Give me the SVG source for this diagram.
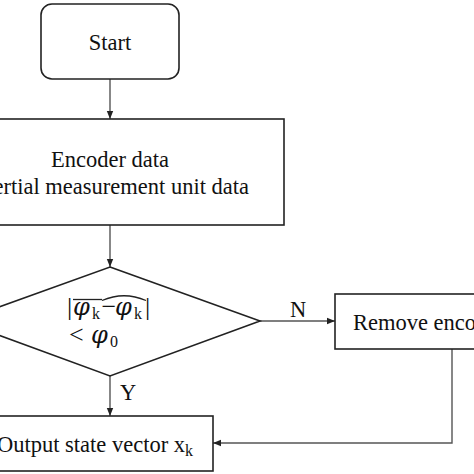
<svg xmlns="http://www.w3.org/2000/svg" width="474" height="474" viewBox="0 0 474 474">
<style>
.box{fill:#fff;stroke:#222;stroke-width:1.6}
.c{fill:none;stroke:#555;stroke-width:1.4}
.t{font-family:"Liberation Serif","Times New Roman",serif;font-size:22.5px;fill:#111}
.m{font-family:"Liberation Serif","DejaVu Serif",serif;font-size:26px;fill:#111}
.phi{font-family:"DejaVu Serif",serif;font-style:italic;font-size:24px}
.sub{font-size:16px}
</style>
<defs>
<marker id="ah" markerWidth="8" markerHeight="8" refX="8" refY="4" orient="auto" markerUnits="userSpaceOnUse">
<path d="M0,0.8 L8,4 L0,7.2 Z" fill="#222"/>
</marker>
</defs>
<rect width="474" height="474" fill="#fff"/>
<g id="connectors">
<line class="c" x1="110" y1="79" x2="110" y2="119" marker-end="url(#ah)"/>
<line class="c" x1="110" y1="225" x2="110" y2="267" marker-end="url(#ah)"/>
<line class="c" x1="260" y1="321" x2="335" y2="321" marker-end="url(#ah)"/>
<line class="c" x1="110" y1="376" x2="110" y2="416" marker-end="url(#ah)"/>
<polyline class="c" points="452,349 452,443 213,443" marker-end="url(#ah)"/>
<text class="t" x="290" y="317">N</text>
<text class="t" x="120" y="400">Y</text>
</g>
<g id="start">
<rect class="box" x="41" y="4" width="138" height="75" rx="11"/>
<text class="t" x="110" y="50" text-anchor="middle">Start</text>
</g>
<g id="input">
<rect class="box" x="-10" y="119" width="294" height="106"/>
<text class="t" x="110" y="167" text-anchor="middle">Encoder data</text>
<text class="t" x="249" y="194" text-anchor="end">Inertial measurement unit data</text>
</g>
<g id="decision">
<polygon class="box" points="110,267 260,321 110,376 -40,321"/>
<text class="m" y="315"><tspan x="67">|</tspan><tspan class="phi" x="73">φ</tspan><tspan class="sub" x="92" y="319">k</tspan><tspan x="101.5" y="315">−</tspan><tspan class="phi" x="115">φ</tspan><tspan class="sub" x="134" y="319">k</tspan><tspan x="145" y="315">|</tspan></text>
<line x1="73" y1="299.5" x2="102" y2="299.5" stroke="#222" stroke-width="1.3"/>
<path d="M102,300.5 Q124,291 146,300.5" fill="none" stroke="#222" stroke-width="1.3"/>
<text class="m" y="343"><tspan x="69">&lt;</tspan><tspan class="phi" x="91">φ</tspan><tspan class="sub" x="110" y="347">0</tspan></text>
</g>
<g id="remove">
<rect class="box" x="335" y="294" width="150" height="55"/>
<text class="t" x="353" y="330">Remove encoder data</text>
</g>
<g id="output">
<rect class="box" x="-10" y="416" width="223" height="55"/>
<text class="t" x="193" y="452" text-anchor="end">Output state vector x<tspan font-size="16" dy="4">k</tspan></text>
</g>
</svg>
